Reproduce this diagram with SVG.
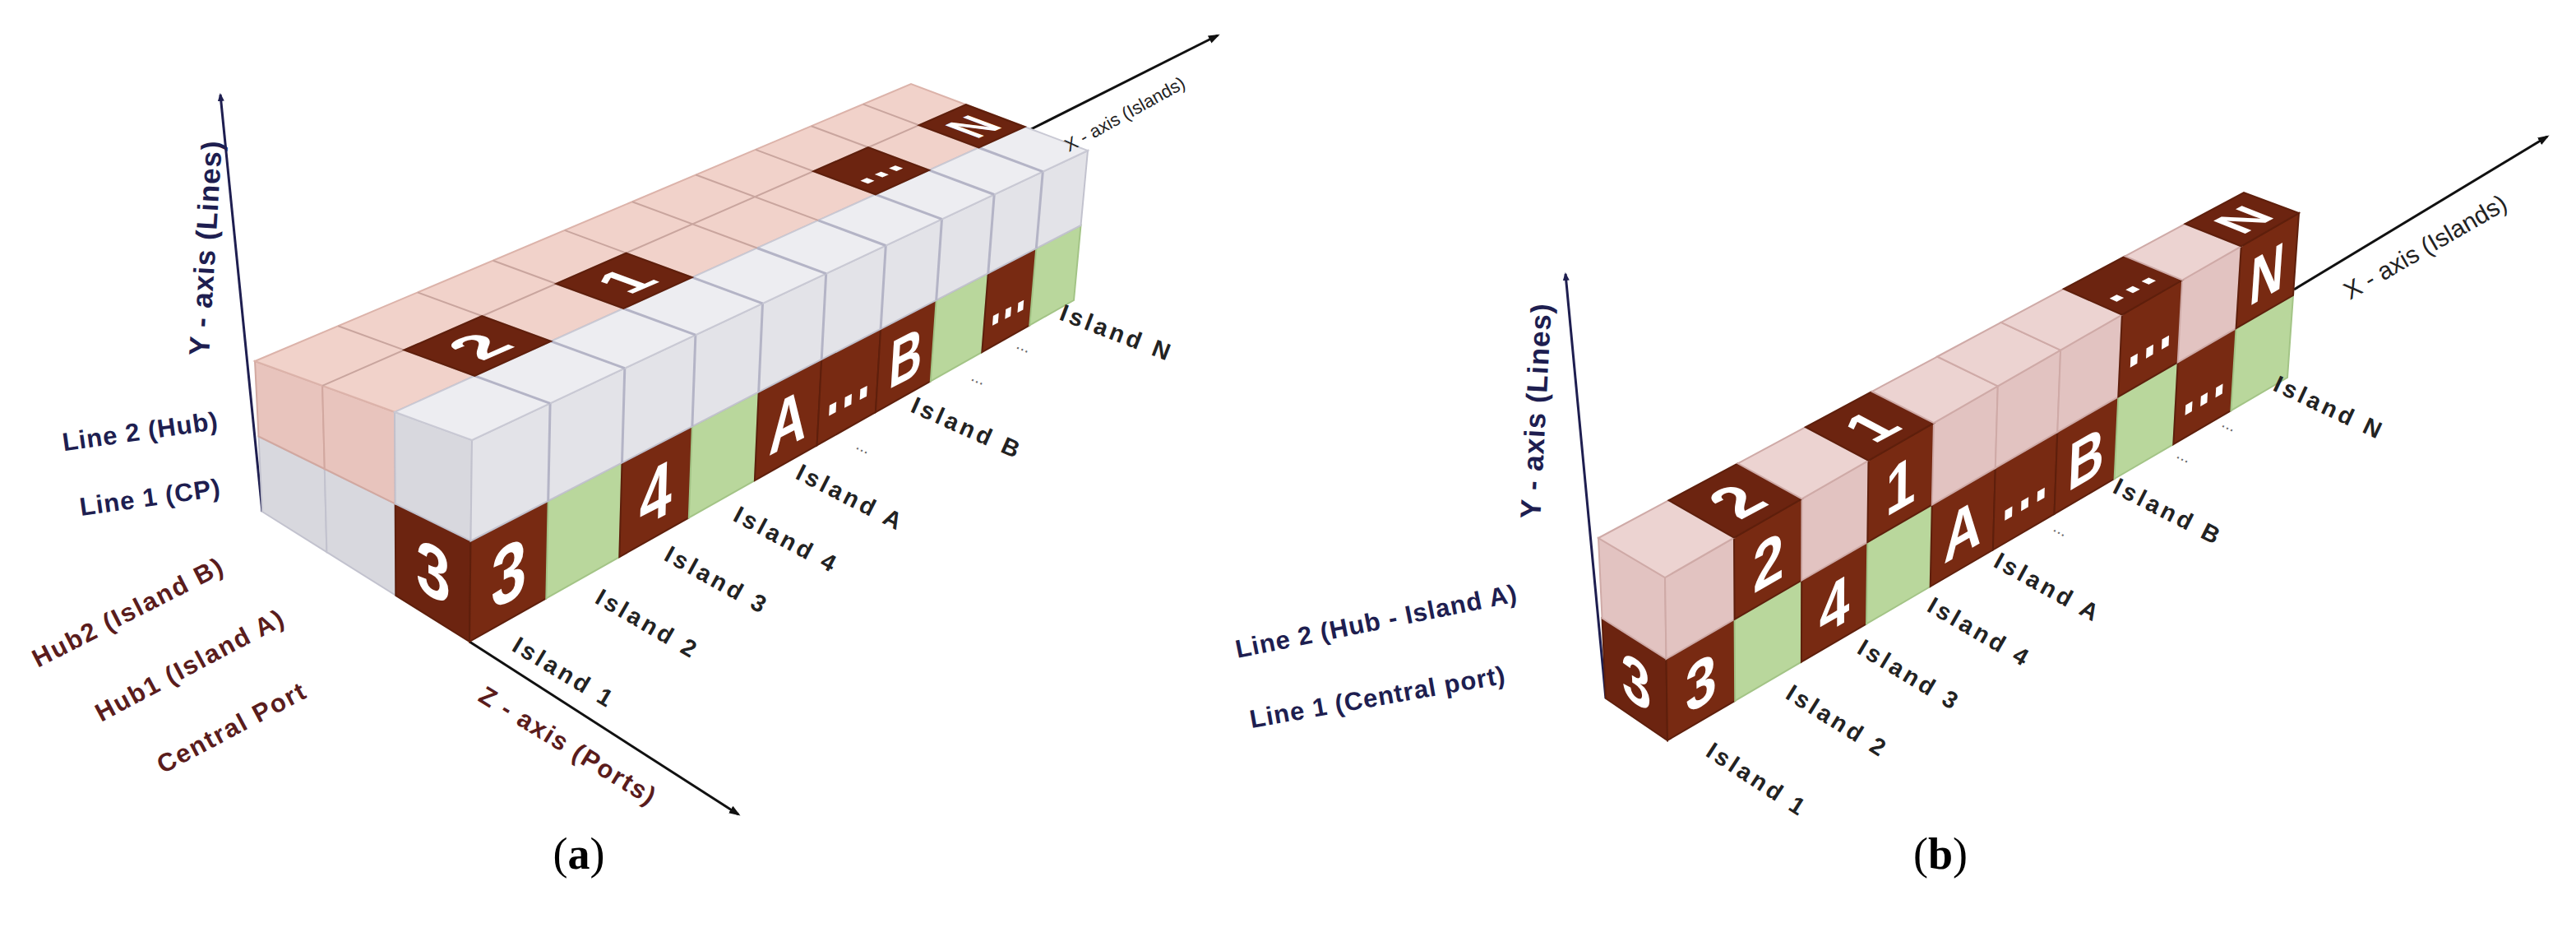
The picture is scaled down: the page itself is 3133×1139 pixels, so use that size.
<svg xmlns="http://www.w3.org/2000/svg" width="3133" height="1139" viewBox="0 0 3133 1139">
<style>
.pk{fill:#f1d2ca;stroke:#dcb3aa;stroke-width:2}
.pkf{fill:#e8c4bd;stroke:#d2a8a0;stroke-width:2}
.pkb{fill:#e2c3c1;stroke:#cfaaa7;stroke-width:2}
.pkbt{fill:#ecd3d1;stroke:#cfaaa7;stroke-width:2}
.wt{fill:#ededf1;stroke:#c9c9d4;stroke-width:2}
.wf{fill:#e3e3e8;stroke:#c2c2ce;stroke-width:2}
.wl{fill:#d8d8de;stroke:#c2c2ce;stroke-width:2}
.br{fill:#782a12;stroke:#5e1f0c;stroke-width:2}
.brt{fill:#6c2410;stroke:#5e1f0c;stroke-width:2}
.gr{fill:#b9d79c;stroke:#a3c486;stroke-width:2}
.grid{fill:none;stroke:#c9a59e;stroke-width:2}
.wgrid{fill:none;stroke:#b4b4c6;stroke-width:3}
.bt{fill:#fff;font-family:"Liberation Sans",Arial,sans-serif;font-weight:bold;font-size:82px;text-anchor:middle}
.ln{fill:#1e1e50;font-family:"Liberation Sans",Arial,sans-serif;font-weight:bold;font-size:31px;letter-spacing:1px}
.ya{fill:#1e1e50;font-family:"Liberation Sans",Arial,sans-serif;font-weight:bold;font-size:35px;letter-spacing:1px;text-anchor:middle}
.pt{fill:#5a1c1c;font-family:"Liberation Sans",Arial,sans-serif;font-weight:bold;font-size:31px;letter-spacing:2px}
.is{fill:#222;font-family:"Liberation Sans",Arial,sans-serif;font-weight:bold;font-size:29px;letter-spacing:4px}
.dd{fill:#666;font-family:"Liberation Sans",Arial,sans-serif;font-size:20px}
.ax{fill:#222;font-family:"Liberation Sans",Arial,sans-serif;font-size:22px}
.cap{fill:#000;font-family:"Liberation Serif","Times New Roman",serif;font-size:54px;text-anchor:middle}
</style>
<defs>
<marker id="an" markerWidth="10" markerHeight="10" refX="8" refY="5" orient="auto" markerUnits="userSpaceOnUse" viewBox="0 0 10 10"><path d="M0,1 L10,5 L0,9 z" fill="#1e1e50"/></marker>
<marker id="ak" markerWidth="14" markerHeight="14" refX="11" refY="7" orient="auto" markerUnits="userSpaceOnUse" viewBox="0 0 14 14"><path d="M0,2 L14,7 L0,12 z" fill="#111"/></marker>
</defs>
<rect width="3133" height="1139" fill="#fff"/>

<g id="connectors">
<line x1="319" y1="622" x2="268" y2="115" stroke="#1e1e50" stroke-width="3" marker-end="url(#an)"/>
<line x1="571" y1="780" x2="898" y2="990" stroke="#111" stroke-width="3" marker-end="url(#ak)"/>
<line x1="1252" y1="158" x2="1481" y2="43" stroke="#111" stroke-width="3" marker-end="url(#ak)"/>
<line x1="1953" y1="849" x2="1904" y2="333" stroke="#1e1e50" stroke-width="3" marker-end="url(#an)"/>
<line x1="2790" y1="352" x2="3098" y2="166" stroke="#111" stroke-width="3" marker-end="url(#ak)"/>
</g>

<g id="block-a">
<polygon class="wl" points="319,622 397.4,671.1 394.8,570 314.5,530.5"/>
<polygon class="wl" points="397.4,671.1 481.3,723.8 480.7,612.3 394.8,570"/>
<polygon class="brt" points="481.3,723.8 571,780 572.5,657.5 480.7,612.3"/>
<polygon class="pkf" points="314.5,530.5 394.8,570 392.1,468.9 310,439"/>
<polygon class="pkf" points="394.8,570 480.7,612.3 480,500.8 392.1,468.9"/>
<polygon class="wl" points="480.7,612.3 572.5,657.5 574,535 480,500.8"/>
<text class="bt" x="50" y="82" transform="matrix(0.918,0.452,0.006,1.115,480.7,612.3)">3</text>

<polygon class="br" points="571,780 664.3,727.3 666.7,608.8 572.5,657.5"/>
<polygon class="gr" points="664.3,727.3 753.3,677.1 756.5,562.4 666.7,608.8"/>
<polygon class="br" points="753.3,677.1 837.8,629.4 841.9,518.3 756.5,562.4"/>
<polygon class="gr" points="837.8,629.4 917.9,584.1 922.7,476.5 841.9,518.3"/>
<polygon class="br" points="917.9,584.1 993.6,541.4 999.2,437 922.7,476.5"/>
<polygon class="br" points="993.6,541.4 1064.9,501.1 1071.1,399.8 999.2,437"/>
<polygon class="br" points="1064.9,501.1 1131.8,463.4 1138.7,364.9 1071.1,399.8"/>
<polygon class="gr" points="1131.8,463.4 1194.3,428.1 1201.8,332.3 1138.7,364.9"/>
<polygon class="br" points="1194.3,428.1 1252.3,395.3 1260.3,302 1201.8,332.3"/>
<polygon class="gr" points="1252.3,395.3 1306,365 1314.5,274 1260.3,302"/>
<text class="bt" x="50" y="80" transform="matrix(0.942,-0.487,-0.015,1.225,572.5,657.5)">3</text>
<text class="bt" x="50" y="80" transform="matrix(0.854,-0.441,-0.032,1.147,756.5,562.4)">4</text>
<text class="bt" x="50" y="80" transform="matrix(0.765,-0.395,-0.048,1.076,922.7,476.5)">A</text>
<text class="bt" x="50" y="72" transform="matrix(0.719,-0.372,-0.056,1.044,999.2,437)">…</text>
<text class="bt" x="50" y="80" transform="matrix(0.676,-0.349,-0.062,1.013,1071.1,399.8)">B</text>
<text class="bt" x="50" y="72" transform="matrix(0.585,-0.303,-0.075,0.958,1201.8,332.3)">…</text>

<polygon class="wf" points="572.5,657.5 1314.5,274 1323,183 574,535"/>
<path class="wgrid" d="M666.7,608.8L669.1,490.3M756.5,562.4L759.8,447.7M841.9,518.3L845.9,407.2M922.7,476.5L927.5,368.9M999.2,437L1004.7,332.6M1071.1,399.8L1077.3,298.5M1138.7,364.9L1145.5,266.4M1201.8,332.3L1209.2,236.5M1260.3,302L1268.3,208.7"/>

<polygon class="pk" points="310,439 1108,102 1246.5,154.2 480,500.8"/>
<polygon class="wt" points="480,500.8 1246.5,154.2 1323,183 574,535"/>
<path class="grid" d="M392.1,468.9L1174.9,127.2M411.3,396.2L577.3,456.8M507.9,355.4L670.1,414.8M599.7,316.7L758.3,375M686.7,279.9L841.8,337.2M768.9,245.2L920.8,301.5M846.3,212.5L995.1,267.9M918.9,181.9L1064.8,236.3M986.7,153.2L1130,206.8M1049.7,126.6L1190.5,179.5"/>
<path class="wgrid" d="M577.3,456.8L669.1,490.3M670.1,414.8L759.8,447.7M758.3,375L845.9,407.2M841.8,337.2L927.5,368.9M920.8,301.5L1004.7,332.6M995.1,267.9L1077.3,298.5M1064.8,236.3L1145.5,266.4M1130,206.8L1209.2,236.5M1190.5,179.5L1268.3,208.7"/>
<polygon class="brt" points="491.5,425.5 586.2,384.1 670.1,414.8 577.3,456.8"/>
<polygon class="brt" points="676.3,344.8 761.6,307.6 841.8,337.2 758.3,375"/>
<polygon class="brt" points="989.4,208.2 1055.9,179.1 1130,206.8 1064.8,236.3"/>
<polygon class="brt" points="1117.7,152.1 1174.9,127.2 1246.5,154.2 1190.5,179.5"/>
<text class="bt" x="50" y="80" transform="matrix(0.947,-0.414,0.858,0.313,491.5,425.5)">2</text>
<text class="bt" x="50" y="80" transform="matrix(0.853,-0.372,0.82,0.302,676.3,344.8)">1</text>
<text class="bt" x="50" y="72" transform="matrix(0.665,-0.291,0.754,0.281,989.4,208.2)">…</text>
<text class="bt" x="50" y="80" transform="matrix(0.572,-0.249,0.728,0.274,1117.7,152.1)">N</text>
</g>

<g id="labels-a">
<text class="ya" transform="translate(262,302) rotate(-86.5)">Y - axis (Lines)</text>
<text class="ln" transform="translate(172,535) rotate(-8)" text-anchor="middle">Line 2 (Hub)</text>
<text class="ln" transform="translate(184,615) rotate(-8)" text-anchor="middle">Line 1 (CP)</text>
<text class="pt" transform="translate(46,812) rotate(-27)">Hub2 (Island B)</text>
<text class="pt" transform="translate(123,878) rotate(-28)">Hub1 (Island A)</text>
<text class="pt" transform="translate(198,941) rotate(-28)">Central Port</text>
<text class="pt" transform="translate(580,851) rotate(31.5)">Z - axis (Ports)</text>
<text class="ax" transform="translate(1300,185) rotate(-29)">X - axis (Islands)</text>
<text class="is" transform="translate(621,790) rotate(31)">Island 1</text>
<text class="is" transform="translate(722,732) rotate(30)">Island 2</text>
<text class="is" transform="translate(806,680) rotate(29)">Island 3</text>
<text class="is" transform="translate(890,632) rotate(28)">Island 4</text>
<text class="is" transform="translate(966,581) rotate(27)">Island A</text>
<text class="dd" transform="translate(1040,545) rotate(26)">...</text>
<text class="is" transform="translate(1106,500) rotate(24)">Island B</text>
<text class="dd" transform="translate(1180,462) rotate(23)">...</text>
<text class="dd" transform="translate(1235,423) rotate(22)">...</text>
<text class="is" transform="translate(1287,388) rotate(21)">Island N</text>
<text class="cap" x="704" y="1056">(<tspan font-weight="bold">a</tspan>)</text>
</g>

<g id="block-b">
<polygon class="brt" points="1953,849 2028,900 2026.5,801 1948.5,751.5"/>
<polygon class="pkb" points="1948.5,751.5 2026.5,801 2025,702 1944,654"/>
<text class="bt" x="50" y="82" transform="matrix(0.78,0.495,0.045,0.975,1948.5,751.5)">3</text>

<polygon class="br" points="2028,900 2110.2,851.9 2109.6,752.8 2026.5,801"/>
<polygon class="gr" points="2110.2,851.9 2190.9,804.7 2191.2,705.5 2109.6,752.8"/>
<polygon class="br" points="2190.9,804.7 2270,758.4 2271.3,659.1 2191.2,705.5"/>
<polygon class="gr" points="2270,758.4 2347.7,713 2349.8,613.6 2271.3,659.1"/>
<polygon class="br" points="2347.7,713 2423.9,668.5 2426.8,568.9 2349.8,613.6"/>
<polygon class="br" points="2423.9,668.5 2498.5,624.8 2502.3,525.2 2426.8,568.9"/>
<polygon class="br" points="2498.5,624.8 2571.6,582 2576.3,482.3 2502.3,525.2"/>
<polygon class="gr" points="2571.6,582 2643.3,540.1 2648.7,440.3 2576.3,482.3"/>
<polygon class="br" points="2643.3,540.1 2713.4,499.1 2719.6,399.2 2648.7,440.3"/>
<polygon class="gr" points="2713.4,499.1 2782,459 2789,359 2719.6,399.2"/>
<text class="bt" x="50" y="82" transform="matrix(0.831,-0.482,0.015,0.99,2026.5,801)">3</text>
<text class="bt" x="50" y="82" transform="matrix(0.801,-0.464,-0.003,0.992,2191.2,705.5)">4</text>
<text class="bt" x="50" y="82" transform="matrix(0.77,-0.447,-0.021,0.994,2349.8,613.6)">A</text>
<text class="bt" x="50" y="72" transform="matrix(0.755,-0.437,-0.029,0.996,2426.8,568.9)">…</text>
<text class="bt" x="50" y="82" transform="matrix(0.74,-0.429,-0.038,0.996,2502.3,525.2)">B</text>
<text class="bt" x="50" y="72" transform="matrix(0.709,-0.411,-0.054,0.998,2648.7,440.3)">…</text>

<polygon class="pkb" points="2026.5,801 2109.6,752.8 2109,653.7 2025,702"/>
<polygon class="br" points="2109.6,752.8 2191.2,705.5 2191.5,606.3 2109,653.7"/>
<polygon class="pkb" points="2191.2,705.5 2271.3,659.1 2272.5,559.8 2191.5,606.3"/>
<polygon class="br" points="2271.3,659.1 2349.8,613.6 2351.9,514.2 2272.5,559.8"/>
<polygon class="pkb" points="2349.8,613.6 2426.8,568.9 2429.8,469.4 2351.9,514.2"/>
<polygon class="pkb" points="2426.8,568.9 2502.3,525.2 2506.1,425.6 2429.8,469.4"/>
<polygon class="pkb" points="2502.3,525.2 2576.3,482.3 2580.9,382.6 2506.1,425.6"/>
<polygon class="br" points="2576.3,482.3 2648.7,440.3 2654.1,340.5 2580.9,382.6"/>
<polygon class="pkb" points="2648.7,440.3 2719.6,399.2 2725.8,299.3 2654.1,340.5"/>
<polygon class="br" points="2719.6,399.2 2789,359 2796,259 2725.8,299.3"/>
<text class="bt" x="50" y="82" transform="matrix(0.825,-0.474,0.006,0.991,2109,653.7)">2</text>
<text class="bt" x="50" y="82" transform="matrix(0.794,-0.456,-0.01,0.993,2272.5,559.8)">1</text>
<text class="bt" x="50" y="72" transform="matrix(0.732,-0.421,-0.046,0.997,2580.9,382.6)">…</text>
<text class="bt" x="50" y="82" transform="matrix(0.702,-0.403,-0.068,0.998,2725.8,299.3)">N</text>

<polygon class="pkbt" points="1944,654 2029.6,608.2 2109,653.7 2025,702"/>
<polygon class="brt" points="2029.6,608.2 2113.6,563.3 2191.5,606.3 2109,653.7"/>
<polygon class="pkbt" points="2113.6,563.3 2196,519.2 2272.5,559.8 2191.5,606.3"/>
<polygon class="brt" points="2196,519.2 2276.8,475.9 2351.9,514.2 2272.5,559.8"/>
<polygon class="pkbt" points="2276.8,475.9 2356.1,433.5 2429.8,469.4 2351.9,514.2"/>
<polygon class="pkbt" points="2356.1,433.5 2433.8,391.9 2506.1,425.6 2429.8,469.4"/>
<polygon class="pkbt" points="2433.8,391.9 2510,351.2 2580.9,382.6 2506.1,425.6"/>
<polygon class="brt" points="2510,351.2 2584.6,311.3 2654.1,340.5 2580.9,382.6"/>
<polygon class="pkbt" points="2584.6,311.3 2657.6,272.2 2725.8,299.3 2654.1,340.5"/>
<polygon class="brt" points="2657.6,272.2 2729,234 2796,259 2725.8,299.3"/>
<text class="bt" x="50" y="80" transform="matrix(0.84,-0.449,0.794,0.455,2029.6,608.2)">2</text>
<text class="bt" x="50" y="80" transform="matrix(0.808,-0.433,0.765,0.406,2196,519.2)">1</text>
<text class="bt" x="50" y="72" transform="matrix(0.746,-0.399,0.709,0.314,2510,351.2)">…</text>
<text class="bt" x="50" y="80" transform="matrix(0.714,-0.382,0.682,0.271,2657.6,272.2)">N</text>
</g>

<g id="labels-b">
<text class="ya" transform="translate(1880,500) rotate(-87)">Y - axis (Lines)</text>
<text class="ln" transform="translate(1505,800) rotate(-11.4)">Line 2 (Hub - Island A)</text>
<text class="ln" transform="translate(1522,885) rotate(-10)">Line 1 (Central port)</text>
<text class="ax" transform="translate(2858,365) rotate(-30)" style="font-size:30px">X - axis (Islands)</text>
<text class="is" transform="translate(2073,918) rotate(33)">Island 1</text>
<text class="is" transform="translate(2170,848) rotate(32)">Island 2</text>
<text class="is" transform="translate(2257,793) rotate(31)">Island 3</text>
<text class="is" transform="translate(2342,742) rotate(30)">Island 4</text>
<text class="is" transform="translate(2423,688) rotate(29)">Island A</text>
<text class="dd" transform="translate(2496,645) rotate(28)">...</text>
<text class="is" transform="translate(2568,598) rotate(27)">Island B</text>
<text class="dd" transform="translate(2646,556) rotate(26)">...</text>
<text class="dd" transform="translate(2701,518) rotate(26)">...</text>
<text class="is" transform="translate(2763,474) rotate(25)">Island N</text>
<text class="cap" x="2360" y="1056">(<tspan font-weight="bold">b</tspan>)</text>
</g>
</svg>
